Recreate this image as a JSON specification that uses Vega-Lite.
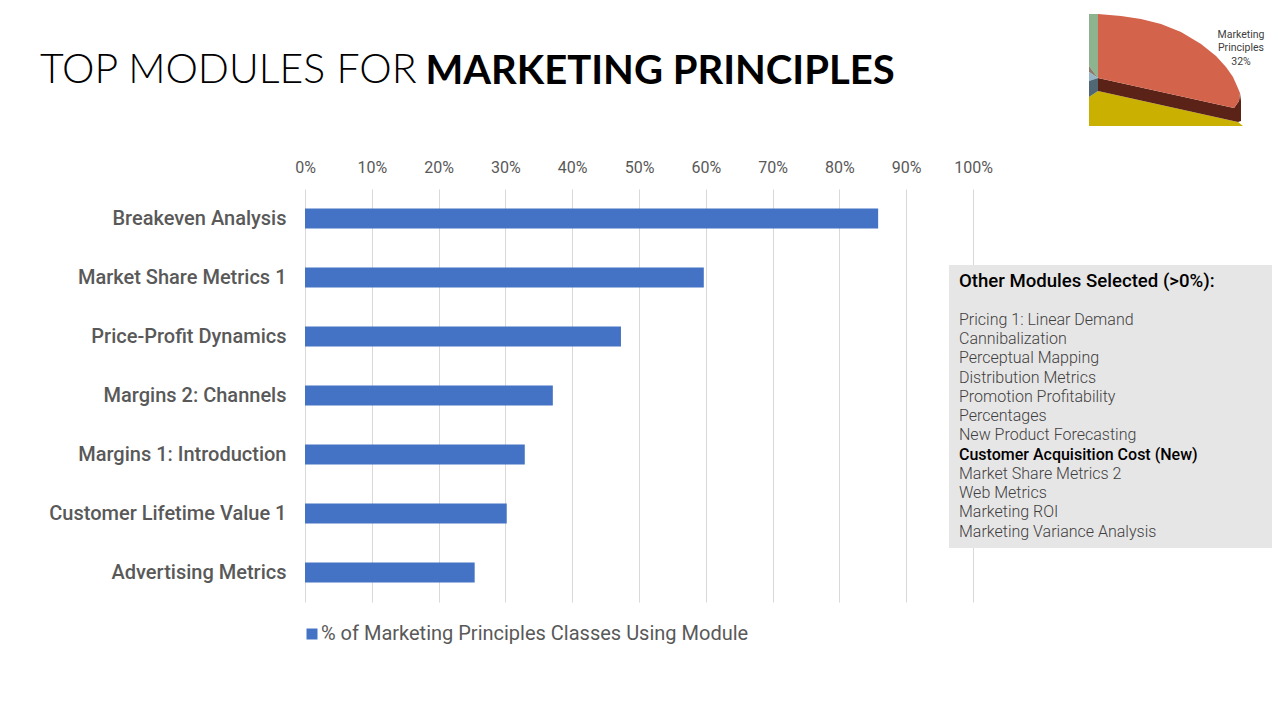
{
  "$schema": "https://vega.github.io/schema/vega-lite/v6.json",
  "background": "#ffffff",
  "padding": {"left": 40, "top": 13, "right": 4, "bottom": 4},
  "config": {"view": {"stroke": null}},
  "spacing": -44,
  "align": "none",
  "resolve": {
    "scale": {"color": "independent", "shape": "independent", "size": "independent"},
    "legend": {"color": "independent", "shape": "independent", "size": "independent"}
  },
  "hconcat": [
    {
      "width": 668,
      "height": 413,
      "title": {
        "text": ["", "TOP MODULES FOR"],
        "anchor": "start",
        "frame": "group",
        "dx": -265,
        "offset": -41,
        "font": "Lato",
        "fontWeight": 300,
        "fontSize": 41,
        "lineHeight": 37,
        "color": "#000000",
        "baseline": "top"
      },
      "data": {
        "values": [
          {"module": "Breakeven Analysis", "share": 0.858, "series": "% of Marketing Principles Classes Using Module"},
          {"module": "Market Share Metrics 1", "share": 0.597, "series": "% of Marketing Principles Classes Using Module"},
          {"module": "Price-Profit Dynamics", "share": 0.473, "series": "% of Marketing Principles Classes Using Module"},
          {"module": "Margins 2: Channels", "share": 0.371, "series": "% of Marketing Principles Classes Using Module"},
          {"module": "Margins 1: Introduction", "share": 0.329, "series": "% of Marketing Principles Classes Using Module"},
          {"module": "Customer Lifetime Value 1", "share": 0.302, "series": "% of Marketing Principles Classes Using Module"},
          {"module": "Advertising Metrics", "share": 0.254, "series": "% of Marketing Principles Classes Using Module"}
        ]
      },
      "mark": {"type": "bar"},
      "encoding": {
        "y": {
          "field": "module",
          "type": "nominal",
          "sort": null,
          "scale": {"paddingInner": 0.66, "paddingOuter": 0.33},
          "axis": {
            "title": null,
            "domain": false,
            "ticks": false,
            "labelPadding": 19,
            "labelFont": "Roboto",
            "labelFontSize": 20,
            "labelFontWeight": 500,
            "labelColor": "#595959",
            "labelLimit": 400
          }
        },
        "x": {
          "field": "share",
          "type": "quantitative",
          "scale": {"domain": [0, 1], "nice": false},
          "axis": {
            "orient": "top",
            "format": ".0%",
            "values": [0, 0.1, 0.2, 0.3, 0.4, 0.5, 0.6, 0.7, 0.8, 0.9, 1],
            "domain": false,
            "ticks": false,
            "tickSize": 0,
            "labelPadding": 14,
            "labelFlush": false,
            "labelFont": "Roboto",
            "labelFontSize": 16,
            "labelColor": "#595959",
            "grid": true,
            "gridColor": "#D9D9D9",
            "gridWidth": 1,
            "title": "MARKETING PRINCIPLES",
            "titleX": 120,
            "titleY": -106,
            "titleAlign": "left",
            "titleBaseline": "alphabetic",
            "titleAngle": 0,
            "titleFont": "Lato",
            "titleFontWeight": "bold",
            "titleFontSize": 40,
            "titleColor": "#000000"
          }
        },
        "color": {
          "field": "series",
          "type": "nominal",
          "scale": {"range": ["#4472C4"]},
          "legend": {
            "title": null,
            "orient": "bottom",
            "direction": "horizontal",
            "offset": 22,
            "padding": 0,
            "symbolType": "square",
            "symbolSize": 121,
            "symbolStrokeWidth": 0,
            "symbolOffset": -3,
            "labelFont": "Roboto",
            "labelFontSize": 20,
            "labelColor": "#595959",
            "labelLimit": 700,
            "labelOffset": -1
          }
        }
      }
    },
    {
      "spacing": 0,
      "vconcat": [
        {
          "width": 322,
          "height": 76,
          "layer": [
            {
              "data": {
                "values": [
                  {"part": "Other slice D"},
                  {"part": "Marketing Principles side"},
                  {"part": "Marketing Principles"},
                  {"part": "Other slice A"},
                  {"part": "Other slice B"},
                  {"part": "Other slice C"},
                  {"part": "Other slice E"}
                ]
              },
              "mark": {"type": "point", "filled": true, "size": 4, "opacity": 1, "strokeWidth": 0, "yOffset": -157},
              "encoding": {
                "shape": {
                  "field": "part",
                  "type": "nominal",
                  "legend": null,
                  "scale": {
                    "domain": ["Marketing Principles", "Marketing Principles side", "Other slice D", "Other slice A", "Other slice B", "Other slice C", "Other slice E"],
                    "range": [
                      "M-12,8 L-12,-56 L11,-54 L31,-51 L51,-46 L71,-38 L91,-26 L106,-14 L116,-3 L123,7 L127,16 L130,23 L129,31 L124,38 Z",
                      "M-12,8 L124,38 L129,31 L130,23 L131,31 L131,51 L128,52 L-12,21 Z",
                      "M-21,27 L-12,21 L128,52 L133,56 L-21,56 Z",
                      "M-21,-56 L-12,-56 L-12,8 L-21,-4 Z",
                      "M-21,-4 L-12,8 L-21,2 Z",
                      "M-21,2 L-12,8 L-21,11 Z",
                      "M-21,11 L-12,8 L-12,21 L-21,27 Z"
                    ]
                  }
                },
                "color": {
                  "field": "part",
                  "type": "nominal",
                  "legend": null,
                  "scale": {
                    "domain": ["Marketing Principles", "Marketing Principles side", "Other slice D", "Other slice A", "Other slice B", "Other slice C", "Other slice E"],
                    "range": ["#D3634B", "#5B2318", "#CAB000", "#8DB48F", "#8B7B6E", "#93B5C6", "#4F6874"]
                  }
                }
              }
            },
            {
              "data": {"values": [{"caption": "Marketing Principles 32%"}]},
              "mark": {
                "type": "text",
                "dx": 131,
                "dy": -192,
                "lineBreak": " ",
                "lineHeight": 13.3,
                "font": "Roboto",
                "fontSize": 10.5,
                "color": "#404040",
                "align": "center",
                "baseline": "middle"
              },
              "encoding": {"text": {"field": "caption"}}
            }
          ]
        },
        {
          "width": 323,
          "height": 283,
          "view": {"fill": "#E7E6E6", "stroke": null},
          "data": {
            "values": [
              {"label": "Other Modules Selected (>0%):", "kind": "header"},
              {"label": "Pricing 1: Linear Demand", "kind": "module"},
              {"label": "Cannibalization", "kind": "module"},
              {"label": "Perceptual Mapping", "kind": "module"},
              {"label": "Distribution Metrics", "kind": "module"},
              {"label": "Promotion Profitability", "kind": "module"},
              {"label": "Percentages", "kind": "module"},
              {"label": "New Product Forecasting", "kind": "module"},
              {"label": "Customer Acquisition Cost (New)", "kind": "new module"},
              {"label": "Market Share Metrics 2", "kind": "module"},
              {"label": "Web Metrics", "kind": "module"},
              {"label": "Marketing ROI", "kind": "module"},
              {"label": "Marketing Variance Analysis", "kind": "module"}
            ]
          },
          "encoding": {
            "y": {
              "field": "label",
              "type": "nominal",
              "axis": null,
              "scale": {
                "type": "point",
                "padding": 0.85,
                "domain": ["Other Modules Selected (>0%):", " ", "Pricing 1: Linear Demand", "Cannibalization", "Perceptual Mapping", "Distribution Metrics", "Promotion Profitability", "Percentages", "New Product Forecasting", "Customer Acquisition Cost (New)", "Market Share Metrics 2", "Web Metrics", "Marketing ROI", "Marketing Variance Analysis"]
              }
            },
            "x": {"datum": 0, "type": "quantitative", "scale": {"domain": [0, 1]}, "axis": null},
            "text": {"field": "label"}
          },
          "layer": [
            {
              "transform": [{"filter": "datum.kind === 'module'"}],
              "mark": {"type": "text", "align": "left", "baseline": "middle", "dx": 10, "font": "Roboto", "fontWeight": 300, "fontSize": 16, "color": "#404040"}
            },
            {
              "transform": [{"filter": "datum.kind !== 'module'"}],
              "mark": {"type": "text", "align": "left", "baseline": "middle", "dx": 10, "font": "Roboto", "fontWeight": 500, "color": "#000000"},
              "encoding": {
                "size": {"condition": {"test": "datum.kind === 'header'", "value": 18.6}, "value": 16}
              }
            }
          ]
        }
      ]
    }
  ]
}
